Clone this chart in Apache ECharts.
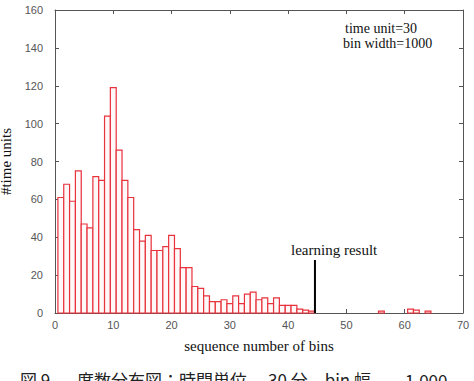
<!DOCTYPE html>
<html><head><meta charset="utf-8">
<script src="https://cdn.jsdelivr.net/npm/echarts@6/dist/echarts.min.js"></script>
<style>html,body{margin:0;padding:0;background:#fff}#c{width:474px;height:381px}</style>
</head><body><div id="c"></div>
<script>
// sequence number of bins (bin centres)
const bins = [1,2,3,4,5,6,7,8,9,10,11,12,13,14,15,16,17,18,19,20,21,22,23,24,25,26,27,28,29,30,31,32,33,34,35,36,37,38,39,40,41,42,43,44,56,61,62,64];
// #time units per bin
const counts = [61,68,59,75,47,45,72,70,104,119,86,70,61,44,38,41,33,33,35,41,34,24,24,14,13,9,6,6,7,5,9,5,10,11,7,8,5,8,4,4,4,2,1.5,1,1,2,1.5,1];
const xTicks = [0,10,20,30,40,50,60,70];
const yTicks = [0,20,40,60,80,100,120,140,160];
const learningX = 44.6;
const learningTop = 28;
const notes = ['time unit=30', 'bin width=1000'];

const chart = echarts.init(document.getElementById('c'), null, {renderer: 'svg'});
const serif = '"Liberation Serif","DejaVu Serif",serif';
const sans = '"Liberation Sans",Arial,sans-serif';
const frame = '#555';
const barStroke = '#e8323c';
const data = bins.map((b, i) => [b, counts[i]]);

chart.setOption({
  animation: false,
  color: [barStroke],
  grid: {left: 55, right: 11, top: 10, bottom: 68, outerBoundsMode: 'none', containLabel: false},
  xAxis: [
    {type: 'value', min: xTicks[0], max: xTicks[xTicks.length-1], interval: 10, position: 'bottom',
     axisLine: {onZero: false, lineStyle: {color: frame}}, axisTick: {inside: true, length: 4, lineStyle: {color: frame}},
     axisLabel: {color: '#555', fontFamily: sans, fontSize: 11, margin: 6},
     splitLine: {show: false},
     name: 'sequence number of bins', nameLocation: 'middle', nameGap: 25,
     nameTextStyle: {fontFamily: serif, fontSize: 15, color: '#111'}},
    {type: 'value', min: 0, max: 70, interval: 10, position: 'top',
     axisLine: {onZero: false, lineStyle: {color: frame}}, axisTick: {inside: true, length: 4, lineStyle: {color: frame}},
     axisLabel: {show: false}, splitLine: {show: false}}
  ],
  yAxis: [
    {type: 'value', min: yTicks[0], max: yTicks[yTicks.length-1], interval: 20, position: 'left',
     axisLine: {show: true, onZero: false, lineStyle: {color: frame}}, axisTick: {show: true, inside: true, length: 4, lineStyle: {color: frame}},
     axisLabel: {color: '#555', fontFamily: sans, fontSize: 11, margin: 12},
     splitLine: {show: false},
     name: '#time units', nameLocation: 'middle', nameGap: 40, nameRotate: 90,
     nameTextStyle: {fontFamily: serif, fontSize: 15, color: '#111'}},
    {type: 'value', min: 0, max: 160, interval: 20, position: 'right',
     axisLine: {show: true, onZero: false, lineStyle: {color: frame}}, axisTick: {show: true, inside: true, length: 4, lineStyle: {color: frame}},
     axisLabel: {show: false}, splitLine: {show: false}}
  ],
  series: [
    {type: 'custom', xAxisIndex: 0, yAxisIndex: 0, data: data,
     itemStyle: {color: '#fff', borderColor: barStroke},
     emphasis: {disabled: true},
     renderItem: function (params, api) {
       const x = api.value(0), y = api.value(1);
       const p0 = api.coord([x - 0.5, 0]);
       const p1 = api.coord([x + 0.5, y]);
       return {type: 'rect',
         shape: {x: p0[0], y: p1[1], width: p1[0] - p0[0], height: p0[1] - p1[1]},
         style: {fill: '#fff8f8', stroke: barStroke, lineWidth: 1.2, opacity: 1},
         emphasisDisabled: true};
     }},
    {type: 'line', xAxisIndex: 0, yAxisIndex: 0, data: [[learningX, 0], [learningX, learningTop]],
     symbol: 'none', lineStyle: {color: '#000', width: 2}, z: 5, emphasis: {disabled: true}}
  ],
  graphic: [
    {type: 'text', left: 291, top: 242, style: {text: 'learning result', font: '15px ' + serif, fill: '#111'}},
    {type: 'text', left: 345, top: 21, style: {text: notes[0], font: '14px ' + serif, fill: '#111'}},
    {type: 'text', left: 343, top: 36, style: {text: notes[1], font: '14px ' + serif, fill: '#111'}},
    {type: 'text', left: 20, top: 371, style: {text: '図 9', font: '17px "Noto Sans CJK JP"', fill: '#222'}},
    {type: 'text', left: 77, top: 371, style: {text: '度数分布図：時間単位', font: '17px "Noto Sans CJK JP"', fill: '#222'}},
    {type: 'text', left: 268, top: 371, style: {text: '30 分，bin 幅', font: '17px "Noto Sans CJK JP"', fill: '#222'}},
    {type: 'text', left: 405, top: 371, style: {text: '1,000', font: '17px "Noto Sans CJK JP"', fill: '#222'}}
  ]
});
</script></body></html>
